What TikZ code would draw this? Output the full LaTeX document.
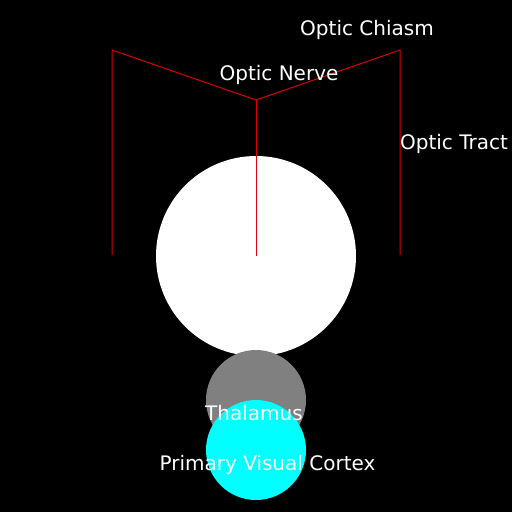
\documentclass[tikz,border=0pt]{standalone}
\usepackage{fontspec}
\setmainfont{DejaVu Sans}
\usepackage{tikz}
\definecolor{cortexcyan}{RGB}{0,255,255}
\definecolor{thalgray}{RGB}{128,128,128}
\definecolor{nervered}{RGB}{220,0,0}
\tikzset{x=1pt, y=-1pt,
  organ/.style={circle, inner sep=0pt, outer sep=0pt},
  lbl/.style={text=white, anchor=base, inner sep=0pt, font=\fontsize{20}{24}\selectfont},
  nerve/.style={draw=nervered, line width=1pt}}

\begin{document}
\begin{tikzpicture}
                \fill[black] (0,0) rectangle (512,512);
                \useasboundingbox (0,0) rectangle (512,512);
                \node[organ, fill=white, minimum size=200pt] (eye) at (256,256) {};
                \node[organ, fill=thalgray, minimum size=100pt] (thal) at (256,400) {};
                \node[organ, fill=cortexcyan, minimum size=100pt] (cortex) at (256,450) {};
                \coordinate (lbot) at (112,255);
                \coordinate (ltop) at (112,50);
                \coordinate (chiasm) at (256,100);
                \coordinate (rtop) at (400,50);
                \coordinate (rbot) at (400,255);
                \draw[nerve] (lbot) -- (ltop) -- (chiasm) -- (rtop) -- (rbot);
                \draw[nerve] (chiasm) -- (eye.center);
                \node[lbl] (chiasmlbl) at (367,35.5) {Optic Chiasm};
                \node[lbl] (nervelbl) at (279,80) {Optic Nerve};
                \node[lbl] (tractlbl) at (454,149.5) {Optic Tract};
                \node[lbl] (thallbl) at (254,420) {Thalamus};
                \node[lbl] (cortexlbl) at (267.5,470) {Primary Visual Cortex};
              \end{tikzpicture}
\end{document}
